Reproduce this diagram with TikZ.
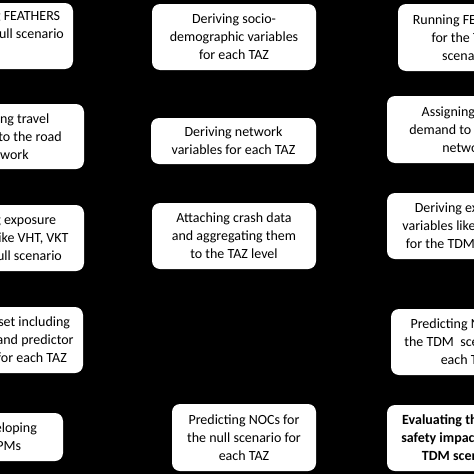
\documentclass[tikz,border=0pt]{standalone}
\usepackage{fontspec}
\setmainfont{Carlito}
\begin{document}
\begin{tikzpicture}[x=1pt,y=-1pt,
  box/.style={fill=white, rounded corners=8pt, align=center, inner sep=0pt,
    font=\fontsize{14}{18}\selectfont},
  boldbox/.style={box, font=\fontsize{14}{18}\selectfont\bfseries}]
\useasboundingbox (0,0) rectangle (474,474);
\fill[black] (0,0) rectangle (474,474);
% left column (null scenario)
\node[box, minimum width=132pt, minimum height=66pt] (l1) at (7,36)
  {Running FEATHERS\\for the null scenario\\\strut};
\node[box, minimum width=158pt, minimum height=65pt] (l2) at (5,136.5)
  {Assigning travel\\demand to the road\\network};
\node[box, minimum width=158pt, minimum height=66pt] (l3) at (5,238)
  {Deriving exposure\\variables like VHT, VKT\\for the null scenario};
\node[box, minimum width=156pt, minimum height=66pt] (l4) at (5,340)
  {Final data set including\\responses and predictor\\variables for each TAZ};
\node[box, minimum width=116pt, minimum height=48pt] (l5) at (5,437)
  {Developing\\CPMs};
% middle column
\node[box, minimum width=164pt, minimum height=66pt] (m1) at (234,37)
  {Deriving socio-\\demographic variables\\for each TAZ};
\node[box, minimum width=165pt, minimum height=46pt] (m2) at (233.5,141)
  {Deriving network\\variables for each TAZ};
\node[box, minimum width=164pt, minimum height=66pt] (m3) at (234,236)
  {Attaching crash data\\and aggregating them\\to the TAZ level};
\node[box, minimum width=144pt, minimum height=67pt] (m4) at (244,437.5)
  {Predicting NOCs for\\the null scenario for\\each TAZ};
% right column (TDM scenario)
\node[box, minimum width=136pt, minimum height=67pt] (r1) at (466,37.5)
  {Running FEATHERS\\for the TDM\\scenario};
\node[box, minimum width=158pt, minimum height=67pt] (r2) at (466,129.5)
  {Assigning travel\\demand to the road\\network};
\node[box, minimum width=158pt, minimum height=66pt] (r3) at (466,226)
  {Deriving exposure\\variables like VHT, VKT\\for the TDM scenario};
\node[box, minimum width=150pt, minimum height=66pt] (r4) at (466,342)
  {Predicting NOCs for\\the TDM\ \ scenario for\\each TAZ};
\node[boldbox, minimum width=150pt, minimum height=66pt] (r5) at (462,438)
  {Evaluating the traffic\\safety impacts of the\\TDM scenario};
\end{tikzpicture}
\end{document}
